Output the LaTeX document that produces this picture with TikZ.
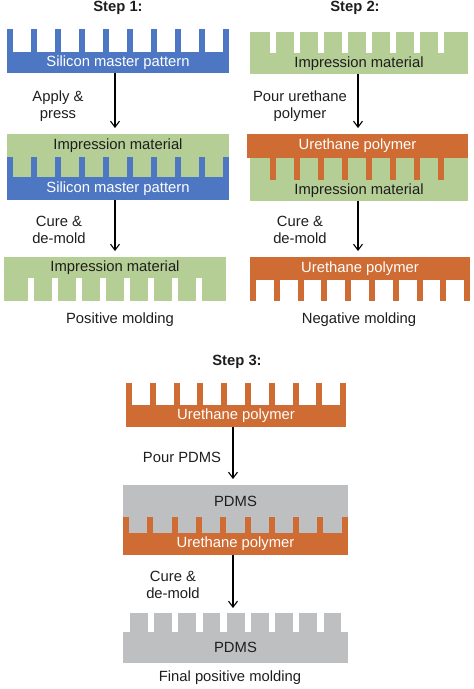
\documentclass[tikz,border=0pt]{standalone}
\usepackage{fontspec}
\setmainfont{Liberation Sans}
\usetikzlibrary{arrows.meta}
\definecolor{siBlue}{HTML}{4D77C2}
\definecolor{impGreen}{HTML}{B5CE95}
\definecolor{ureOrange}{HTML}{CE6C34}
\definecolor{pdmsGray}{HTML}{BEBFC1}
\definecolor{txtDark}{HTML}{1E1E1E}

\begin{document}
\begin{tikzpicture}[x=1pt, y=-1pt,
      >={Straight Barb[length=6pt,width=9pt]},
      every node/.style={font=\fontsize{14.8}{17.5}\selectfont, text=txtDark},
      layer/.style={anchor=north west, inner sep=0pt, outer sep=0pt},
      lbl/.style={align=center},
      title/.style={font=\fontsize{14.8}{17.5}\selectfont\bfseries},
      flow/.style={->, line width=1.1pt, shorten >=6pt}]
    \useasboundingbox (0,0) rectangle (474,689);

    % Step 1
    \node[title] (s1) at (118,8) {Step 1:};
    \foreach \k in {0,...,9} \fill[siBlue] ({7+24*\k},29) rectangle ++(6,24);
    \node[layer, fill=siBlue, text=white, minimum width=222pt, minimum height=21pt] (sil1) at (7,52) {Silicon master pattern};
    \node[lbl] (apply) at (58,106) {Apply \&\\press};
    \fill[impGreen] (7,156) rectangle (229,178);
    \node[layer, fill=impGreen, minimum width=222pt, minimum height=23pt] (imp1) at (7,134) {Impression material};
    \foreach \k in {0,...,9} \fill[siBlue] ({7+24*\k},157) rectangle ++(6,21);
    \node[layer, fill=siBlue, text=white, minimum width=222pt, minimum height=23pt] (sil2) at (7,177) {Silicon master pattern};
    \draw[flow] ([xshift=-3pt]sil1.south) -- ([xshift=-3pt]sil1.south |- imp1.north);
    \node[lbl] (cure1) at (59,230) {Cure \&\\de-mold};
    \fill[impGreen] (4,277) rectangle (226,301);
    \foreach \k in {0,...,7} \fill[white] ({28+24*\k},278) rectangle ++(6,24);
    \node[layer, fill=impGreen, minimum width=222pt, minimum height=21pt] (imp2) at (4,257) {Impression material};
    \draw[flow] ([xshift=-3pt]sil2.south) -- ([xshift=-3pt]sil2.south |- imp2.north);
    \node (pos) at (120,320) {Positive molding};

    % Step 2
    \node[title] (s2) at (355,8) {Step 2:};
    \fill[impGreen] (250,32) rectangle (468,54);
    \foreach \k in {0,...,7} \fill[white] ({270+24*\k},31) rectangle ++(6,22);
    \node[layer, fill=impGreen, minimum width=218pt, minimum height=21pt] (imp3) at (250,53) {Impression material};
    \node[lbl] (pour1) at (300,106) {Pour urethane\\polymer};
    \fill[impGreen] (250,157) rectangle (468,181);
    \foreach \k in {0,...,7} \fill[ureOrange] ({270+24*\k},157) rectangle ++(6,23);
    \node[layer, fill=ureOrange, text=white, minimum width=221pt, minimum height=24pt] (ure1) at (247,134) {Urethane polymer};
    \node[layer, fill=impGreen, minimum width=218pt, minimum height=21pt] (imp4) at (250,180) {Impression material};
    \draw[flow] ([xshift=-1pt]imp3.south) -- ([xshift=-1pt]imp3.south |- ure1.north);
    \node[lbl] (cure2) at (300,230) {Cure \&\\de-mold};
    \foreach \k in {0,...,9} \fill[ureOrange] ({250+23.8*\k},279) rectangle ++(6,22);
    \node[layer, fill=ureOrange, text=white, minimum width=220pt, minimum height=23pt] (ure2) at (250,257) {Urethane polymer};
    \draw[flow] ([xshift=-1pt]imp4.south) -- ([xshift=-1pt]imp4.south |- ure2.north);
    \node (neg) at (359,320) {Negative molding};

    % Step 3
    \node[title] (s3) at (237,362) {Step 3:};
    \foreach \k in {0,...,9} \fill[ureOrange] ({126+23.8*\k},383) rectangle ++(6,23);
    \node[layer, fill=ureOrange, text=white, minimum width=220pt, minimum height=22pt] (ure3) at (126,405) {Urethane polymer};
    \node[lbl] (pour2) at (182,457) {Pour PDMS};
    \fill[pdmsGray] (123,516) rectangle (348,534);
    \foreach \k in {0,...,9} \fill[ureOrange] ({123+24.3*\k},517) rectangle ++(6,17);
    \node[layer, fill=pdmsGray, minimum width=225pt, minimum height=32pt] (pdms1) at (123,485) {PDMS};
    \node[layer, fill=ureOrange, text=white, minimum width=225pt, minimum height=22pt] (ure4) at (123,533) {Urethane polymer};
    \draw[flow] ([xshift=-3pt]ure3.south) -- ([xshift=-3pt]ure3.south |- pdms1.north);
    \node[lbl] (cure3) at (173,585) {Cure \&\\de-mold};
    \foreach \k in {0,...,8} \fill[pdmsGray] ({130+24.2*\k},613) rectangle ++(17.7,20);
    \node[layer, fill=pdmsGray, minimum width=225pt, minimum height=31pt] (pdms2) at (123,632) {PDMS};
    \draw[flow, shorten >=24pt] ([xshift=-2.5pt]ure4.south) -- ([xshift=-2.5pt]ure4.south |- pdms2.north);
    \node (fin) at (230,678) {Final positive molding};
  \end{tikzpicture}
\end{document}
